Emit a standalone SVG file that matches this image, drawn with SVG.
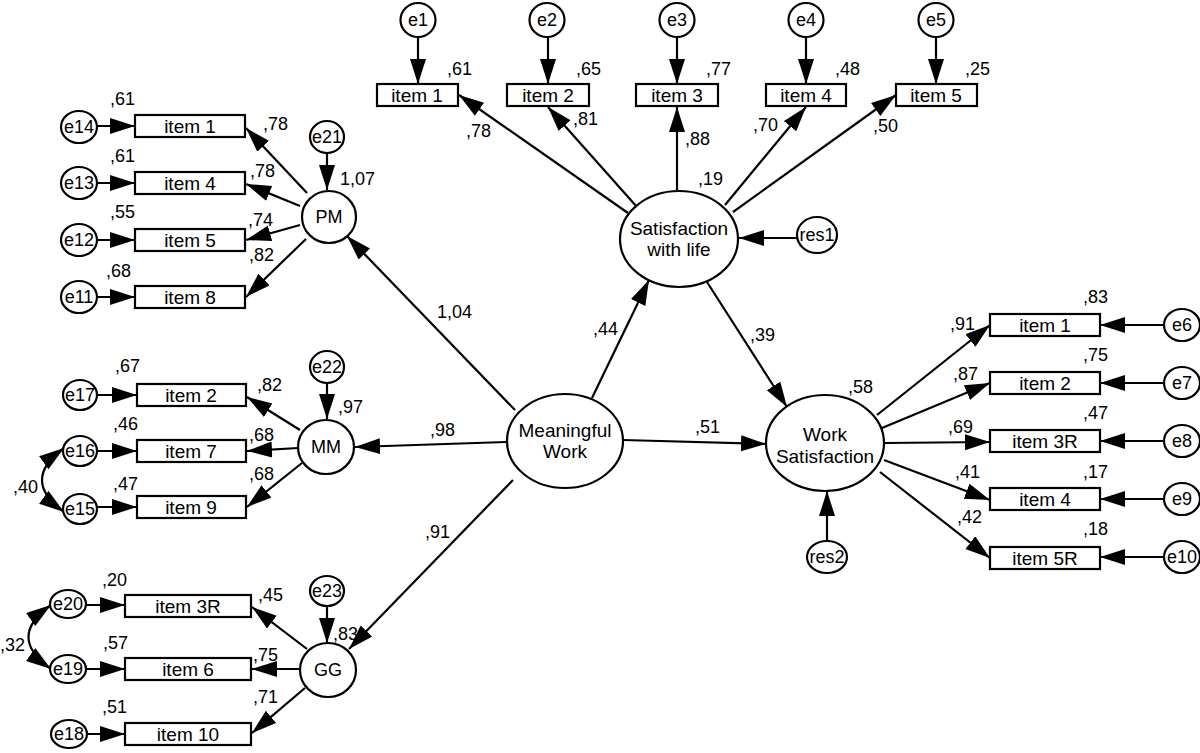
<svg xmlns="http://www.w3.org/2000/svg" width="1200" height="753" viewBox="0 0 1200 753">
<defs>
<marker id="ah" markerUnits="userSpaceOnUse" markerWidth="28" markerHeight="18" refX="25" refY="8" orient="auto-start-reverse">
<path d="M0,0 L25,8 L0,16 z" fill="#000"/>
</marker>
<style>
.n ellipse{fill:#fff;stroke:#000;stroke-width:2.2}
.n rect{fill:#fff;stroke:#000;stroke-width:2.2}
.c line,.c path{stroke:#000;stroke-width:2.2;fill:none;marker-end:url(#ah)}
.c path.cov{marker-start:url(#ah)}
text{font-family:"Liberation Sans",Arial,sans-serif;fill:#000}
.t{font-size:18px;text-anchor:middle}
.b{font-size:19px;text-anchor:middle}
.l{font-size:18px}
</style>
</defs>
<rect width="1200" height="753" fill="#fff"/>

<g class="c" id="connectors">
<line x1="418" y1="37" x2="418" y2="84"/>
<line x1="548" y1="37" x2="548" y2="84"/>
<line x1="677" y1="37" x2="677" y2="84"/>
<line x1="806" y1="37" x2="806" y2="84"/>
<line x1="936" y1="37" x2="936" y2="84"/>
<line x1="628" y1="213" x2="459" y2="95"/>
<line x1="637" y1="207" x2="548" y2="107"/>
<line x1="677" y1="191" x2="677" y2="107"/>
<line x1="725" y1="205" x2="806" y2="107"/>
<line x1="733" y1="212" x2="896" y2="95"/>
<line x1="797" y1="238" x2="739" y2="238"/>
<line x1="592" y1="398" x2="649" y2="280"/>
<line x1="707" y1="282" x2="787" y2="407"/>
<line x1="623" y1="440" x2="766" y2="444"/>
<line x1="515" y1="410" x2="347" y2="236"/>
<line x1="506" y1="442" x2="355" y2="447"/>
<line x1="513" y1="480" x2="349" y2="649"/>
<line x1="827" y1="541" x2="827" y2="491"/>
<line x1="877" y1="415" x2="990" y2="325"/>
<line x1="882" y1="428" x2="990" y2="383"/>
<line x1="884" y1="443" x2="990" y2="442"/>
<line x1="884" y1="460" x2="990" y2="500"/>
<line x1="880" y1="472" x2="990" y2="558"/>
<line x1="1163" y1="325" x2="1100" y2="325"/>
<line x1="1163" y1="383" x2="1100" y2="383"/>
<line x1="1163" y1="441" x2="1100" y2="441"/>
<line x1="1163" y1="499" x2="1100" y2="499"/>
<line x1="1163" y1="557" x2="1100" y2="557"/>
<line x1="327" y1="153" x2="327" y2="190"/>
<line x1="307" y1="193" x2="246" y2="128"/>
<line x1="300" y1="206" x2="246" y2="184"/>
<line x1="300" y1="225" x2="246" y2="240"/>
<line x1="306" y1="239" x2="246" y2="297"/>
<line x1="97" y1="126" x2="135" y2="126"/>
<line x1="97" y1="183" x2="135" y2="183"/>
<line x1="97" y1="240" x2="135" y2="240"/>
<line x1="97" y1="297" x2="135" y2="297"/>
<line x1="327" y1="383" x2="327" y2="419"/>
<line x1="300" y1="430" x2="247" y2="397"/>
<line x1="298" y1="448" x2="247" y2="451"/>
<line x1="302" y1="463" x2="247" y2="507"/>
<line x1="97" y1="395" x2="137" y2="395"/>
<line x1="97" y1="451" x2="137" y2="451"/>
<line x1="97" y1="507" x2="137" y2="507"/>
<path class="cov" d="M64,448 Q20,480 64,512"/>
<line x1="327" y1="607" x2="327" y2="643"/>
<line x1="307" y1="649" x2="252" y2="607"/>
<line x1="300" y1="669" x2="252" y2="669"/>
<line x1="305" y1="688" x2="252" y2="733"/>
<line x1="86" y1="605" x2="125" y2="605"/>
<line x1="86" y1="669" x2="125" y2="669"/>
<line x1="87" y1="734" x2="125" y2="734"/>
<path class="cov" d="M51,605 Q6,637 51,669"/>
</g>

<g class="n" id="e1"><ellipse cx="418" cy="20" rx="17.5" ry="17"/><text class="t" x="418" y="26">e1</text></g>
<g class="n" id="e2"><ellipse cx="547" cy="20" rx="17.5" ry="17"/><text class="t" x="547" y="26">e2</text></g>
<g class="n" id="e3"><ellipse cx="677" cy="20" rx="17.5" ry="17"/><text class="t" x="677" y="26">e3</text></g>
<g class="n" id="e4"><ellipse cx="806" cy="20" rx="17.5" ry="17"/><text class="t" x="806" y="26">e4</text></g>
<g class="n" id="e5"><ellipse cx="936" cy="20" rx="17.5" ry="17"/><text class="t" x="936" y="26">e5</text></g>

<g class="n" id="swl1"><rect x="377" y="84" width="81" height="22"/><text class="b" x="417" y="102">item 1</text></g>
<g class="n" id="swl2"><rect x="507" y="84" width="82" height="22"/><text class="b" x="548" y="102">item 2</text></g>
<g class="n" id="swl3"><rect x="636" y="84" width="82" height="22"/><text class="b" x="677" y="102">item 3</text></g>
<g class="n" id="swl4"><rect x="766" y="84" width="80" height="22"/><text class="b" x="806" y="102">item 4</text></g>
<g class="n" id="swl5"><rect x="896" y="84" width="81" height="22"/><text class="b" x="936" y="102">item 5</text></g>

<g class="n" id="SWL"><ellipse cx="679" cy="239" rx="59" ry="48"/><text class="b" x="679" y="235">Satisfaction</text><text class="b" x="679" y="256">with life</text></g>
<g class="n" id="res1"><ellipse cx="817" cy="235" rx="20" ry="18"/><text class="t" x="817" y="241">res1</text></g>

<g class="n" id="MW"><ellipse cx="565" cy="441" rx="58" ry="47"/><text class="b" x="565" y="437">Meaningful</text><text class="b" x="565" y="458">Work</text></g>

<g class="n" id="WS"><ellipse cx="825" cy="443" rx="59" ry="48"/><text class="b" x="825" y="441">Work</text><text class="b" x="825" y="463">Satisfaction</text></g>
<g class="n" id="res2"><ellipse cx="827" cy="557" rx="20" ry="16"/><text class="t" x="827" y="563">res2</text></g>

<g class="n" id="ws1"><rect x="990" y="314" width="110" height="22"/><text class="b" x="1045" y="332">item 1</text></g>
<g class="n" id="ws2"><rect x="990" y="372" width="110" height="22"/><text class="b" x="1045" y="390">item 2</text></g>
<g class="n" id="ws3"><rect x="990" y="430" width="110" height="22"/><text class="b" x="1045" y="448">item 3R</text></g>
<g class="n" id="ws4"><rect x="990" y="488" width="110" height="22"/><text class="b" x="1045" y="506">item 4</text></g>
<g class="n" id="ws5"><rect x="990" y="547" width="110" height="22"/><text class="b" x="1045" y="565">item 5R</text></g>
<g class="n" id="e6"><ellipse cx="1182" cy="325" rx="18" ry="16"/><text class="t" x="1182" y="331">e6</text></g>
<g class="n" id="e7"><ellipse cx="1182" cy="383" rx="18" ry="16"/><text class="t" x="1182" y="389">e7</text></g>
<g class="n" id="e8"><ellipse cx="1182" cy="441" rx="18" ry="16"/><text class="t" x="1182" y="447">e8</text></g>
<g class="n" id="e9"><ellipse cx="1182" cy="499" rx="18" ry="16"/><text class="t" x="1182" y="505">e9</text></g>
<g class="n" id="e10"><ellipse cx="1182" cy="557" rx="18" ry="16"/><text class="t" x="1182" y="563">e10</text></g>

<g class="n" id="PM"><ellipse cx="329" cy="217" rx="27" ry="26"/><text class="t" x="329" y="223">PM</text></g>
<g class="n" id="e21"><ellipse cx="327" cy="137" rx="17" ry="16"/><text class="t" x="327" y="143">e21</text></g>
<g class="n" id="pm1"><rect x="135" y="115" width="110" height="22"/><text class="b" x="190" y="133">item 1</text></g>
<g class="n" id="pm4"><rect x="135" y="172" width="110" height="22"/><text class="b" x="190" y="190">item 4</text></g>
<g class="n" id="pm5"><rect x="135" y="229" width="110" height="22"/><text class="b" x="190" y="247">item 5</text></g>
<g class="n" id="pm8"><rect x="135" y="286" width="110" height="22"/><text class="b" x="190" y="304">item 8</text></g>
<g class="n" id="e14"><ellipse cx="79" cy="127" rx="18" ry="16"/><text class="t" x="79" y="133">e14</text></g>
<g class="n" id="e13"><ellipse cx="79" cy="183" rx="18" ry="16"/><text class="t" x="79" y="189">e13</text></g>
<g class="n" id="e12"><ellipse cx="79" cy="240" rx="18" ry="16"/><text class="t" x="79" y="246">e12</text></g>
<g class="n" id="e11"><ellipse cx="79" cy="297" rx="18" ry="16"/><text class="t" x="79" y="303">e11</text></g>

<g class="n" id="MM"><ellipse cx="326" cy="447" rx="28" ry="27"/><text class="t" x="326" y="453">MM</text></g>
<g class="n" id="e22"><ellipse cx="327" cy="367" rx="17" ry="16"/><text class="t" x="327" y="373">e22</text></g>
<g class="n" id="mm2"><rect x="137" y="384" width="109" height="22"/><text class="b" x="191" y="402">item 2</text></g>
<g class="n" id="mm7"><rect x="137" y="440" width="109" height="22"/><text class="b" x="191" y="458">item 7</text></g>
<g class="n" id="mm9"><rect x="137" y="496" width="109" height="22"/><text class="b" x="191" y="514">item 9</text></g>
<g class="n" id="e17"><ellipse cx="80" cy="395" rx="17" ry="15"/><text class="t" x="80" y="401">e17</text></g>
<g class="n" id="e16"><ellipse cx="80" cy="451" rx="17" ry="15"/><text class="t" x="80" y="457">e16</text></g>
<g class="n" id="e15"><ellipse cx="80" cy="509" rx="17" ry="15"/><text class="t" x="80" y="515">e15</text></g>

<g class="n" id="GG"><ellipse cx="328" cy="670" rx="28" ry="27"/><text class="t" x="328" y="676">GG</text></g>
<g class="n" id="e23"><ellipse cx="327" cy="591" rx="17" ry="15"/><text class="t" x="327" y="597">e23</text></g>
<g class="n" id="gg3"><rect x="125" y="595" width="126" height="22"/><text class="b" x="188" y="613">item 3R</text></g>
<g class="n" id="gg6"><rect x="125" y="658" width="126" height="22"/><text class="b" x="188" y="676">item 6</text></g>
<g class="n" id="gg10"><rect x="125" y="723" width="126" height="22"/><text class="b" x="188" y="741">item 10</text></g>
<g class="n" id="e20"><ellipse cx="68" cy="604" rx="18" ry="14"/><text class="t" x="68" y="610">e20</text></g>
<g class="n" id="e19"><ellipse cx="68" cy="669" rx="18" ry="14"/><text class="t" x="68" y="675">e19</text></g>
<g class="n" id="e18"><ellipse cx="69" cy="734" rx="18" ry="14"/><text class="t" x="69" y="740">e18</text></g>

<g id="labels" class="l">
<text x="447" y="75">,61</text>
<text x="576" y="75">,65</text>
<text x="706" y="75">,77</text>
<text x="835" y="75">,48</text>
<text x="965" y="75">,25</text>
<text x="466" y="137">,78</text>
<text x="573" y="125">,81</text>
<text x="685" y="145">,88</text>
<text x="753" y="131">,70</text>
<text x="873" y="132">,50</text>
<text x="698" y="185">,19</text>
<text x="437" y="318">1,04</text>
<text x="593" y="335">,44</text>
<text x="750" y="341">,39</text>
<text x="430" y="436">,98</text>
<text x="695" y="433">,51</text>
<text x="425" y="538">,91</text>
<text x="848" y="393">,58</text>
<text x="1083" y="303">,83</text>
<text x="950" y="330">,91</text>
<text x="1083" y="361">,75</text>
<text x="953" y="380">,87</text>
<text x="1083" y="419">,47</text>
<text x="948" y="433">,69</text>
<text x="1083" y="478">,17</text>
<text x="955" y="478">,41</text>
<text x="957" y="523">,42</text>
<text x="1083" y="535">,18</text>
<text x="110" y="105">,61</text>
<text x="263" y="130">,78</text>
<text x="110" y="162">,61</text>
<text x="250" y="177">,78</text>
<text x="340" y="185">1,07</text>
<text x="110" y="218">,55</text>
<text x="248" y="226">,74</text>
<text x="249" y="261">,82</text>
<text x="106" y="277">,68</text>
<text x="115" y="372">,67</text>
<text x="257" y="391">,82</text>
<text x="338" y="413">,97</text>
<text x="113" y="430">,46</text>
<text x="249" y="441">,68</text>
<text x="249" y="480">,68</text>
<text x="113" y="490">,47</text>
<text x="13" y="493">,40</text>
<text x="102" y="586">,20</text>
<text x="258" y="601">,45</text>
<text x="333" y="640">,83</text>
<text x="0" y="651">,32</text>
<text x="103" y="649">,57</text>
<text x="253" y="661">,75</text>
<text x="253" y="703">,71</text>
<text x="102" y="713">,51</text>
</g>
</svg>
